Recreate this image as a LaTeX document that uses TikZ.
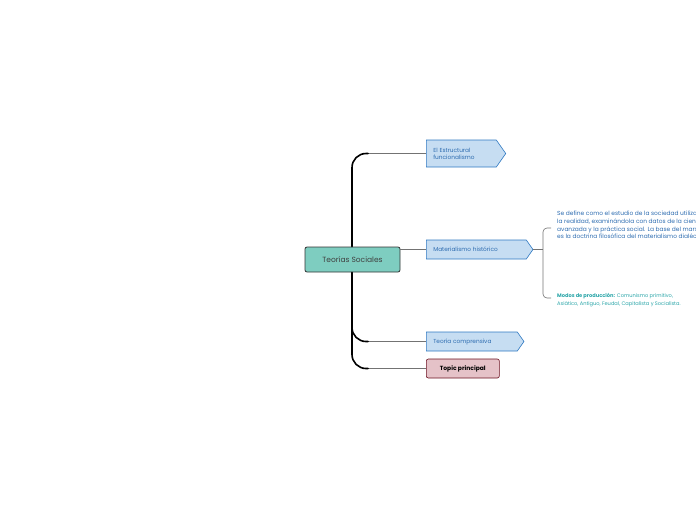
\documentclass[tikz,border=0pt]{standalone}
\usepackage{fontspec}
\setmainfont{Poppins}
\usetikzlibrary{shapes.symbols}
\definecolor{bluefill}{HTML}{C6DDF2}
\definecolor{blueline}{HTML}{2F79C2}
\definecolor{bluetext}{HTML}{2D6CB0}
\definecolor{centralfill}{HTML}{7ECDC0}
\definecolor{pinkfill}{HTML}{E5C2C8}
\definecolor{darkred}{HTML}{6B1020}
\definecolor{tealtext}{HTML}{2AA5A8}
\tikzset{
  sub/.style={signal, signal to=east, signal pointer angle=110, draw=blueline, fill=bluefill, line width=0.6pt,
    text=bluetext, font=\fontsize{5.8}{6.8}\selectfont, align=left, anchor=west, inner xsep=7pt, inner ysep=2pt},
  conn/.style={draw=black!55, line width=0.6pt},
  trunk/.style={draw=black, line width=1.6pt, rounded corners=14pt, line cap=round},
}
\begin{document}
\begin{tikzpicture}[x=1pt,y=-1pt]
\useasboundingbox (0,0) rectangle (696,520);
\begin{scope}
\clip (0,0) rectangle (696,520);
% central
\node[draw=black!80, fill=centralfill, rounded corners=2pt, line width=0.8pt, minimum width=95pt, minimum height=25pt,
  font=\fontsize{7.5}{9}\selectfont, text=black!75] (c) at (352.5,259.5) {Teorías Sociales};
\node[sub, minimum height=27pt, text width=56pt] (e) at (426,153.5) {El Estructural\\funcionalismo};
\node[sub, minimum height=19pt, text width=86pt] (m) at (426,249.5) {Materialismo histórico};
\node[sub, minimum height=19pt, text width=77pt] (t) at (426,341.5) {Teoría comprensiva};
\node[draw=darkred, fill=pinkfill, rounded corners=2pt, line width=0.6pt, minimum width=73pt, minimum height=19pt,
  font=\bfseries\fontsize{6}{7}\selectfont, text=black, anchor=west] (p) at (426,368.5) {Topic principal};
% connectors
\draw[conn] (366,153.5) -- (e.west);
\draw[conn] (366,341.5) -- (t.west);
\draw[conn] (366,368.5) -- (p.west);
\draw[conn] (c.east |- 0,249.5) -- (m.west);
\draw[trunk] (368,153.5) -- (352,153.5) -- (c.north -| 352,0);
\draw[trunk] (c.south -| 352,0) -- (352,368.5) -- (368,368.5);
\draw[trunk] (352,320) -- (352,341.5) -- (368,341.5);
% right bracket
\coordinate (b1) at (551,228);
\coordinate (b2) at (551,298);
\draw[conn] (m.east) -- (543,249.5);
\draw[conn, rounded corners=4pt] (b1) -- (543,228) -- (543,298) -- (b2);
\node[anchor=north west, align=left, text=bluetext, font=\fontsize{5.9}{7.7}\selectfont, inner sep=0pt] (d) at (557,211)
 {Se define como el estudio de la sociedad utilizando\\la realidad, examinándola con datos de la ciencia\\avanzada y la práctica social. La base del marxismo\\es la doctrina filosófica del materialismo dialéctico.};
\node[anchor=north west, align=left, text=tealtext, font=\fontsize{5.1}{8}\selectfont, inner sep=0pt] (mp) at (557,293.5)
 {\textbf{Modos de producción:} Comunismo primitivo,\\Asiático, Antiguo, Feudal, Capitalista y Socialista.};
\end{scope}
\end{tikzpicture}
\end{document}
